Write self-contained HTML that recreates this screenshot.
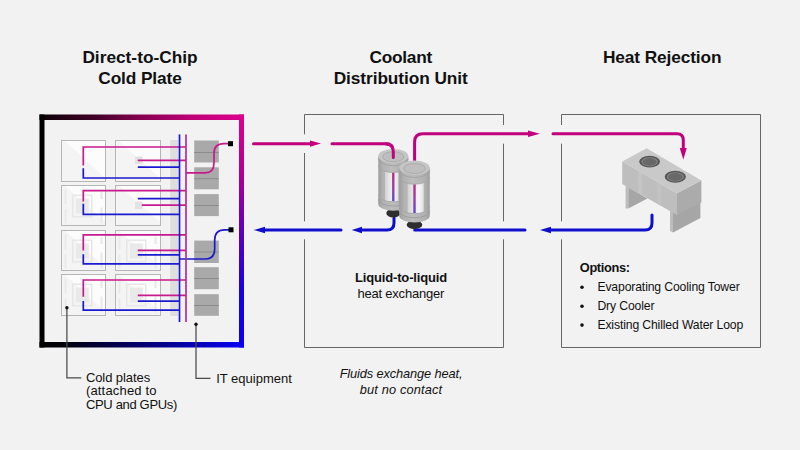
<!DOCTYPE html>
<html><head><meta charset="utf-8">
<style>
html,body{margin:0;padding:0;background:#f2f2f2;}
body{width:800px;height:450px;overflow:hidden;position:relative;}
svg{position:absolute;left:0;top:0;display:block;}
text{font-family:"Liberation Sans",sans-serif;fill:#111;}
.t{font-size:17.3px;font-weight:bold;}
.b{font-size:13px;}
</style></head>
<body>
<svg width="800" height="450" viewBox="0 0 800 450">
<defs>
 <linearGradient id="gTop" x1="39.5" y1="0" x2="244" y2="0" gradientUnits="userSpaceOnUse">
  <stop offset="0" stop-color="#0a0006"/><stop offset="0.25" stop-color="#3c0024"/><stop offset="0.5" stop-color="#860052"/><stop offset="0.75" stop-color="#c00076"/><stop offset="1" stop-color="#dc008c"/>
 </linearGradient>
 <linearGradient id="gBot" x1="39.5" y1="0" x2="244" y2="0" gradientUnits="userSpaceOnUse">
  <stop offset="0" stop-color="#000"/><stop offset="0.12" stop-color="#000008"/><stop offset="1" stop-color="#0a00f5"/>
 </linearGradient>
 <linearGradient id="gRight" x1="0" y1="114.5" x2="0" y2="347.5" gradientUnits="userSpaceOnUse">
  <stop offset="0" stop-color="#dc008c"/><stop offset="0.25" stop-color="#b0008f"/><stop offset="0.5" stop-color="#6000b8"/><stop offset="0.75" stop-color="#1a00e0"/><stop offset="1" stop-color="#0800f0"/>
 </linearGradient>
 <linearGradient id="gPipeL" x1="0" y1="16" x2="0" y2="45" gradientUnits="userSpaceOnUse">
  <stop offset="0" stop-color="#b82a80"/><stop offset="0.5" stop-color="#9a3ca8"/><stop offset="1" stop-color="#6048c8"/>
 </linearGradient>
 <linearGradient id="gPipeR" x1="0" y1="16" x2="0" y2="45" gradientUnits="userSpaceOnUse">
  <stop offset="0" stop-color="#b82a80"/><stop offset="0.5" stop-color="#9a3ca8"/><stop offset="1" stop-color="#6048c8"/>
 </linearGradient>
 <linearGradient id="gCyl" x1="0" y1="0" x2="1" y2="0">
  <stop offset="0" stop-color="#9c9c9c"/><stop offset="0.15" stop-color="#b2b2b2"/><stop offset="0.45" stop-color="#bcbcbc"/><stop offset="0.85" stop-color="#b0b0b0"/><stop offset="1" stop-color="#9e9e9e"/>
 </linearGradient>
 <linearGradient id="gWin" x1="0" y1="0" x2="1" y2="0">
  <stop offset="0" stop-color="#d2d2d2"/><stop offset="0.35" stop-color="#e8e8e8"/><stop offset="0.7" stop-color="#f6f6f6"/><stop offset="1" stop-color="#e0e0e0"/>
 </linearGradient>
</defs>

<!-- ============ LEFT PANEL ============ -->

<rect x="39.5" y="114.5" width="204.5" height="5.5" fill="url(#gTop)"/>
<rect x="39.5" y="342" width="204.5" height="5.5" fill="url(#gBot)"/>
<rect x="39.5" y="114.5" width="5" height="233" fill="#000"/>
<rect x="239" y="114.5" width="5" height="233" fill="url(#gRight)"/>

<!-- cold plate boxes -->
<rect x="61.5" y="140.5" width="44" height="41" fill="#f4f4f4"/>
<path d="M64.5 140.5 H105.5 V178.5 Z" fill="#fcfcfc"/>
<rect x="61.5" y="140.5" width="44" height="41" fill="none" stroke="#b6b6b6" stroke-width="1"/>
<rect x="115.5" y="140.5" width="45" height="41" fill="#f4f4f4"/>
<path d="M118.5 140.5 H160.5 V178.5 Z" fill="#fcfcfc"/>
<rect x="115.5" y="140.5" width="45" height="41" fill="none" stroke="#b6b6b6" stroke-width="1"/>
<rect x="61.5" y="185.5" width="44" height="40" fill="#f4f4f4"/>
<path d="M64.5 185.5 H105.5 V222.5 Z" fill="#fcfcfc"/>
<g fill="#e9e9e9">
 <rect x="64.7" y="189.5" width="1.8" height="15"/>
 <rect x="64.7" y="209.5" width="1.8" height="14"/>
 <rect x="100.4" y="192.0" width="2.2" height="7"/>
 <rect x="100.4" y="207.5" width="2.2" height="16"/>
 <rect x="76.0" y="198.5" width="12.8" height="15"/>
</g>
<rect x="72.7" y="195.2" width="19" height="21.6" fill="none" stroke="#e6e6e6" stroke-width="1.4"/>
<rect x="61.5" y="185.5" width="44" height="40" fill="none" stroke="#b6b6b6" stroke-width="1"/>
<rect x="115.5" y="185.5" width="45" height="40" fill="#f4f4f4"/>
<path d="M118.5 185.5 H160.5 V222.5 Z" fill="#fcfcfc"/>
<rect x="115.5" y="185.5" width="45" height="40" fill="none" stroke="#b6b6b6" stroke-width="1"/>
<rect x="61.5" y="230.5" width="44" height="40" fill="#f4f4f4"/>
<path d="M64.5 230.5 H105.5 V267.5 Z" fill="#fcfcfc"/>
<g fill="#e9e9e9">
 <rect x="64.7" y="234.5" width="1.8" height="15"/>
 <rect x="64.7" y="254.5" width="1.8" height="14"/>
 <rect x="100.4" y="237.0" width="2.2" height="7"/>
 <rect x="100.4" y="252.5" width="2.2" height="16"/>
 <rect x="76.0" y="243.5" width="12.8" height="15"/>
</g>
<rect x="72.7" y="240.2" width="19" height="21.6" fill="none" stroke="#e6e6e6" stroke-width="1.4"/>
<rect x="61.5" y="230.5" width="44" height="40" fill="none" stroke="#b6b6b6" stroke-width="1"/>
<rect x="115.5" y="230.5" width="45" height="40" fill="#f4f4f4"/>
<path d="M118.5 230.5 H160.5 V267.5 Z" fill="#fcfcfc"/>
<g fill="#e9e9e9">
 <rect x="118.7" y="234.5" width="1.8" height="15"/>
 <rect x="118.7" y="254.5" width="1.8" height="14"/>
 <rect x="154.4" y="237.0" width="2.2" height="7"/>
 <rect x="154.4" y="252.5" width="2.2" height="16"/>
 <rect x="130.0" y="243.5" width="12.8" height="15"/>
</g>
<rect x="126.7" y="240.2" width="19" height="21.6" fill="none" stroke="#e6e6e6" stroke-width="1.4"/>
<rect x="115.5" y="230.5" width="45" height="40" fill="none" stroke="#b6b6b6" stroke-width="1"/>
<rect x="61.5" y="274.5" width="44" height="41" fill="#f4f4f4"/>
<path d="M64.5 274.5 H105.5 V312.5 Z" fill="#fcfcfc"/>
<g fill="#e9e9e9">
 <rect x="64.7" y="278.5" width="1.8" height="15"/>
 <rect x="64.7" y="298.5" width="1.8" height="14"/>
 <rect x="100.4" y="281.0" width="2.2" height="7"/>
 <rect x="100.4" y="296.5" width="2.2" height="16"/>
 <rect x="76.0" y="287.5" width="12.8" height="15"/>
</g>
<rect x="72.7" y="284.2" width="19" height="21.6" fill="none" stroke="#e6e6e6" stroke-width="1.4"/>
<rect x="61.5" y="274.5" width="44" height="41" fill="none" stroke="#b6b6b6" stroke-width="1"/>
<rect x="115.5" y="274.5" width="45" height="41" fill="#f4f4f4"/>
<path d="M118.5 274.5 H160.5 V312.5 Z" fill="#fcfcfc"/>
<g fill="#e9e9e9">
 <rect x="118.7" y="278.5" width="1.8" height="15"/>
 <rect x="118.7" y="298.5" width="1.8" height="14"/>
 <rect x="154.4" y="281.0" width="2.2" height="7"/>
 <rect x="154.4" y="296.5" width="2.2" height="16"/>
 <rect x="130.0" y="287.5" width="12.8" height="15"/>
</g>
<rect x="126.7" y="284.2" width="19" height="21.6" fill="none" stroke="#e6e6e6" stroke-width="1.4"/>
<rect x="115.5" y="274.5" width="45" height="41" fill="none" stroke="#b6b6b6" stroke-width="1"/>

<!-- gray squares -->
<g fill="#e2e2e2">
 <rect x="135" y="156.5" width="7.5" height="7.5"/>
 <rect x="135" y="201.5" width="7.5" height="7.5"/>
</g>
<!-- gray strip -->
<rect x="170.2" y="140" width="7.8" height="176" fill="#dedede"/>
<!-- IT boxes -->
<g fill="#a9a9a9">
 <rect x="194.2" y="140.5" width="24.6" height="22"/>
 <rect x="194.2" y="167.3" width="24.6" height="22"/>
 <rect x="194.2" y="194.1" width="24.6" height="22"/>
 <rect x="194.2" y="240.6" width="24.6" height="22.4"/>
 <rect x="194.2" y="267.2" width="24.6" height="22"/>
 <rect x="194.2" y="294.2" width="24.6" height="21.6"/>
</g>
<g stroke="#8c8c8c" stroke-width="1">
 <line x1="194.2" y1="152.5" x2="218.8" y2="152.5"/>
 <line x1="194.2" y1="178.7" x2="218.8" y2="178.7"/>
 <line x1="194.2" y1="205.5" x2="218.8" y2="205.5"/>
 <line x1="194.2" y1="252" x2="218.8" y2="252"/>
 <line x1="194.2" y1="278.5" x2="218.8" y2="278.5"/>
 <line x1="194.2" y1="305.5" x2="218.8" y2="305.5"/>
</g>

<!-- pipes magenta -->
<g fill="none" stroke="#c81a8c" stroke-width="1.7">
 <path d="M186 147 H83.3 V165.4"/>
 <path d="M186 160.4 H137.8"/>
 <path d="M186 190.7 H83.3 V201.6"/>
 <path d="M186 205.2 H141.8"/>
 <path d="M186 234.9 H83.3 V250.4"/>
 <path d="M186 250.4 H137.8"/>
 <path d="M186 280 H83.3 V296.7"/>
 <path d="M186 295.3 H137.8"/>
 <path d="M186 172.8 H205 Q214 172.8 214 163 V153 Q214 143.6 224 143.6 H230"/>
</g>
<!-- pipes blue -->
<g fill="none" stroke="#1a1ad0" stroke-width="1.7">
 <path d="M83.3 168.2 V178 H179.5"/>
 <path d="M137.8 167.1 H179.5"/>
 <path d="M83.3 203.8 V214.3 H179.5"/>
 <path d="M137.8 198.6 H179.5"/>
 <path d="M83.3 254.3 V263.8 H179.5"/>
 <path d="M137.8 254.9 H179.5"/>
 <path d="M83.3 301.1 V310.2 H179.5"/>
 <path d="M137.8 301.1 H179.5"/>
 <path d="M179.5 134.4 V322"/>
 <path d="M179.5 259 H205 Q214.7 259 214.7 249 V240 Q214.7 229.8 224.7 229.8 H230"/>
</g>
<path d="M186 134.4 V322" fill="none" stroke="#b4308e" stroke-width="1.7"/>
<rect x="228" y="141.2" width="5" height="5" fill="#000"/>
<rect x="228.5" y="227.3" width="5" height="5" fill="#000"/>

<!-- leaders -->
<g stroke="#4a4a4a" stroke-width="1.25" fill="none">
 <path d="M66.9 307.8 V377.8 H81.3"/>
 <path d="M196 324.2 V378.4 H210.5"/>
</g>
<circle cx="66.9" cy="307.8" r="1.7" fill="#111"/>
<circle cx="196" cy="324.2" r="1.7" fill="#111"/>

<!-- ============ CDU BOX ============ -->
<g stroke="#666" stroke-width="1" fill="none">
 <path d="M304.5 134.3 V114.5 H503.5 V125"/>
 <path d="M304.5 153 V221.3"/>
 <path d="M304.5 239.3 V347.5 H503.5 V239.3"/>
 <path d="M503.5 143.7 V221.3"/>
</g>
<!-- HR BOX -->
<g stroke="#666" stroke-width="1" fill="none">
 <path d="M561.5 125 V114.5 H760.5 V347.5 H561.5 V239.3"/>
 <path d="M561.5 143.7 V221.3"/>
</g>

<!-- arrows magenta -->
<g fill="none" stroke="#c2007e" stroke-width="3" stroke-linecap="round">
 <path d="M253.5 143.7 H311"/>
 <path d="M332 143.7 H385.5 Q393.3 143.7 393.3 151.5 V157"/>
 <path d="M414.6 161 V141.9 Q414.6 133.7 422.8 133.7 H529"/>
 <path d="M553 133.7 H677 Q683.3 133.7 683.3 140 V149"/>
</g>
<g fill="#c2007e">
 <path d="M310 140.5 L321 143.6 L310 146.7 Z"/>
 <path d="M528 130.4 L540 133.7 L528 137 Z"/>
 <path d="M679.8 148 L683.3 159.4 L686.8 148 Z"/>
</g>
<!-- arrows blue -->
<g fill="none" stroke="#0e0ecc" stroke-width="3" stroke-linecap="round">
 <path d="M264 230 H341"/>
 <path d="M361 230 H387 Q394 230 394 223 V218"/>
 <path d="M414.7 230 H525"/>
 <path d="M551 230 H645 Q652 230 652 223 V215"/>
</g>
<g fill="#0e0ecc">
 <path d="M265 226.7 L253.7 230 L265 233.3 Z"/>
 <path d="M362 226.7 L351.7 230 L362 233.3 Z"/>
 <path d="M551 226.7 L540 230 L551 233.3 Z"/>
</g>

<!-- ============ CYLINDERS ============ -->
<g id="cylL" transform="translate(393.3,156.1)">
 <ellipse cx="0" cy="57" rx="7" ry="4.3" fill="#2e2e2e"/>
 <path d="M-15 0 V47.7 A15 7 0 0 0 15 47.7 V0 Z" fill="url(#gCyl)"/>
 <path d="M-8.3 15.23 A15 7 0 0 0 5 16.00 V45.40 A15 7 0 0 1 -8.3 44.63 Z" fill="url(#gWin)"/>
 <line x1="0" y1="16.4" x2="0" y2="45.2" stroke="url(#gPipeL)" stroke-width="2.4"/>
 <path d="M-15 2.6 A15 7 0 0 0 15 2.6" fill="none" stroke="#a2a2a2" stroke-width="0.9"/>
 <path d="M-15 9.4 A15 7 0 0 0 15 9.4" fill="none" stroke="#a6a6a6" stroke-width="0.9"/>
 <path d="M-15 38.8 A15 7 0 0 0 15 38.8" fill="none" stroke="#a6a6a6" stroke-width="0.9"/>
 <path d="M-15 43 A15 7 0 0 0 15 43" fill="none" stroke="#9c9c9c" stroke-width="0.9"/>
 <ellipse cx="0" cy="0" rx="15" ry="7.2" fill="#c5c5c5"/>
 <ellipse cx="0" cy="0.7" rx="10.5" ry="5" fill="#bebebe" stroke="#a8a8a8" stroke-width="0.9"/>
</g>
<path d="M385.5 143.7 Q393.3 143.7 393.3 151.5 V157.5" fill="none" stroke="#c2007e" stroke-width="3" stroke-linecap="round"/>
<g id="cylR" transform="translate(414.5,167.8)">
 <ellipse cx="0" cy="57" rx="7.8" ry="4.3" fill="#2e2e2e"/>
 <path d="M-15.3 0 V47.7 A15.3 7 0 0 0 15.3 47.7 V0 Z" fill="url(#gCyl)"/>
 <path d="M-6.8 15.67 A15.3 7 0 0 0 9.2 14.99 V44.39 A15.3 7 0 0 1 -6.8 45.07 Z" fill="url(#gWin)"/>
 <line x1="0" y1="16.4" x2="0" y2="45.2" stroke="url(#gPipeR)" stroke-width="2.4"/>
 <path d="M-15.3 2.6 A15.3 7 0 0 0 15.3 2.6" fill="none" stroke="#a2a2a2" stroke-width="0.9"/>
 <path d="M-15.3 9.4 A15.3 7 0 0 0 15.3 9.4" fill="none" stroke="#a6a6a6" stroke-width="0.9"/>
 <path d="M-15.3 38.8 A15.3 7 0 0 0 15.3 38.8" fill="none" stroke="#a6a6a6" stroke-width="0.9"/>
 <path d="M-15.3 43 A15.3 7 0 0 0 15.3 43" fill="none" stroke="#9c9c9c" stroke-width="0.9"/>
 <ellipse cx="0" cy="0" rx="15.3" ry="7.2" fill="#c5c5c5"/>
 <ellipse cx="0" cy="0.7" rx="10.8" ry="5" fill="#bebebe" stroke="#a8a8a8" stroke-width="0.9"/>
</g>

<!-- ============ COOLING TOWER ============ -->
<g>
 <!-- left leg -->
 <path d="M625.6 185.6 L628.4 187.2 V208.6 L625.6 208.6 Z" fill="#bdbdbd"/>
 <path d="M628.4 187.2 L647.4 198.4 L628.4 208.6 Z" fill="#a6a6a6"/>
 <!-- right leg -->
 <path d="M670 209 L673 210.6 V232.6 L670 231 Z" fill="#bdbdbd"/>
 <path d="M673 210.6 L700.4 196 V218 L673 232.6 Z" fill="#a6a6a6"/>
 <!-- front face -->
 <path d="M622.2 161.5 L677 193.3 V215 L622.2 184 Z" fill="#bebebe"/>
 <path d="M638 170.7 L642 173 V195.2 L638 193 Z" fill="#c4c4c4"/>
 <path d="M657 181.7 L661 184 V205.8 L657 203.6 Z" fill="#c2c2c2"/>
 <!-- right face -->
 <path d="M677 193.3 L701.4 180.5 V202.5 L677 215 Z" fill="#ababab"/>
 <!-- top face -->
 <path d="M622.2 161.5 L646.7 148.3 L701.4 180.5 L677 193.3 Z" fill="#c9c9c9"/>
 <ellipse cx="649.6" cy="161.6" rx="10.4" ry="5.9" fill="#555"/>
 <ellipse cx="649.6" cy="161.8" rx="8.3" ry="4.6" fill="#858585"/>
 <ellipse cx="649.6" cy="161.9" rx="7" ry="3.8" fill="#686868"/>
 <ellipse cx="675.3" cy="176.7" rx="10.6" ry="6" fill="#555"/>
 <ellipse cx="675.3" cy="176.9" rx="8.5" ry="4.7" fill="#858585"/>
 <ellipse cx="675.3" cy="177" rx="7.2" ry="3.9" fill="#686868"/>
</g>

<!-- ============ TEXT ============ -->
<text class="t" x="140" y="63" text-anchor="middle">Direct-to-Chip</text>
<text class="t" x="140" y="83.8" text-anchor="middle" letter-spacing="-0.1">Cold Plate</text>
<text class="t" x="400.7" y="62.6" text-anchor="middle" letter-spacing="-0.25">Coolant</text>
<text class="t" x="400.7" y="84.4" text-anchor="middle" letter-spacing="-0.08">Distribution Unit</text>
<text class="t" x="662.2" y="62.8" text-anchor="middle" letter-spacing="-0.12">Heat Rejection</text>

<text class="b" x="401" y="281.5" text-anchor="middle" font-weight="bold" letter-spacing="-0.16">Liquid-to-liquid</text>
<text class="b" x="400.8" y="297.5" text-anchor="middle" letter-spacing="-0.2">heat exchanger</text>
<text x="401" y="377.8" text-anchor="middle" font-size="12.8" font-style="italic" letter-spacing="-0.12">Fluids exchange heat,</text>
<text x="401" y="393.5" text-anchor="middle" font-size="12.8" font-style="italic" letter-spacing="0.14">but no contact</text>

<text x="579.8" y="271.5" font-size="12.8" font-weight="bold" letter-spacing="-0.35">Options:</text>
<circle cx="582" cy="287.2" r="1.8" fill="#111"/>
<circle cx="582" cy="306.3" r="1.8" fill="#111"/>
<circle cx="582" cy="325.1" r="1.8" fill="#111"/>
<g font-size="12.2" letter-spacing="-0.13">
 <text x="597.4" y="290.8">Evaporating Cooling Tower</text>
 <text x="597.4" y="310">Dry Cooler</text>
 <text x="597.4" y="328.6">Existing Chilled Water Loop</text>
</g>

<text x="85.9" y="381.8" class="b" letter-spacing="-0.08">Cold plates</text>
<text x="85.9" y="395.3" class="b" letter-spacing="0.18">(attached to</text>
<text x="85.9" y="409.3" class="b" letter-spacing="-0.33">CPU and GPUs)</text>
<text x="216.2" y="382.8" class="b">IT equipment</text>
</svg>
</body></html>
